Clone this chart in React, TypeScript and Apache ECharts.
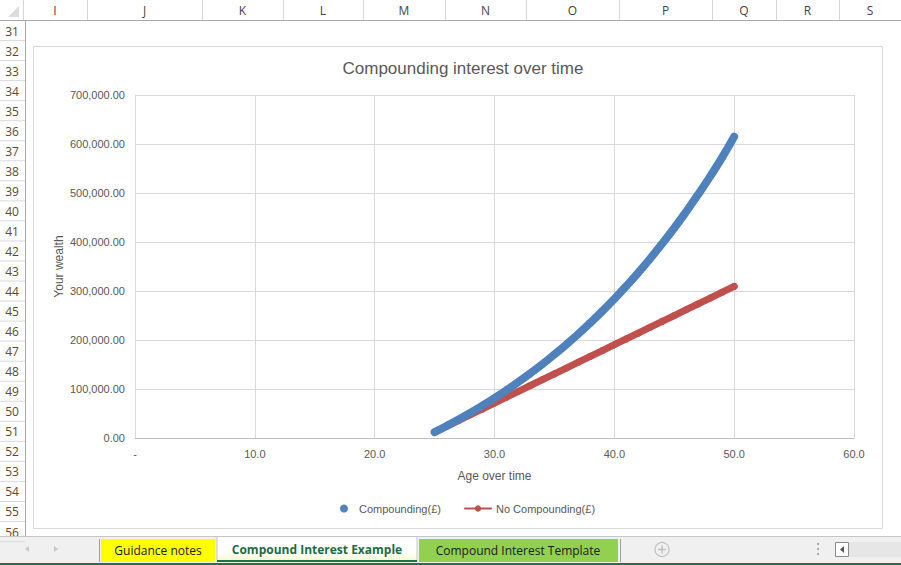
import React, { useEffect, useRef } from "react";
import * as echarts from "echarts";

const ages = [25, 26, 27, 28, 29, 30, 31, 32, 33, 34, 35, 36, 37, 38, 39, 40, 41, 42, 43, 44, 45, 46, 47, 48, 49, 50];
const compounding = [12000, 24600, 37800, 51700, 66300, 81600, 97700, 114600, 132300, 150900, 170500, 191000, 212500, 235200, 258900, 283900, 310100, 337600, 366500, 396800, 428600, 462100, 497200, 534000, 572700, 615000];
const noCompounding = [11900, 23800, 35700, 47600, 59500, 71400, 83300, 95200, 107100, 119000, 130900, 142800, 154700, 166600, 178500, 190400, 202300, 214200, 226100, 238000, 249900, 261800, 273700, 285600, 297500, 309400];

const columnLetters = ["I", "J", "K", "L", "M", "N", "O", "P", "Q", "R", "S"];
const columnEdges = [23, 87, 202, 283, 363, 445, 526, 619, 712, 776, 839, 901];
const rowNumbers = [31, 32, 33, 34, 35, 36, 37, 38, 39, 40, 41, 42, 43, 44, 45, 46, 47, 48, 49, 50, 51, 52, 53, 54, 55, 56];
const sheetTabs = ["Guidance notes", "Compound Interest Example", "Compound Interest Template"];

const UI_FONT = "'Open Sans', 'Noto Sans', sans-serif";
const CHART_FONT = "'Liberation Sans', Arial, sans-serif";

function buildGraphics() {
  const g: any[] = [];
  // Column header row
  g.push({ type: "rect", shape: { x: 0, y: 0, width: 901, height: 20 }, style: { fill: "#ffffff" }, z: -10 });
  g.push({ type: "polygon", shape: { points: [[19, 6], [19, 17], [8, 17]] }, style: { fill: "#dcdcdc" }, z: -9 });
  for (let i = 0; i < columnEdges.length - 1; i++) {
    const x = columnEdges[i];
    g.push({ type: "line", shape: { x1: x + 0.5, y1: 0, x2: x + 0.5, y2: 20 }, style: { stroke: "#d6d6d6", lineWidth: 1 }, z: -9 });
    g.push({
      type: "text",
      style: {
        text: columnLetters[i], x: (x + columnEdges[i + 1]) / 2, y: 10,
        textAlign: "center", textVerticalAlign: "middle", fill: "#444444", font: `12px ${UI_FONT}`,
      },
      z: -9,
    });
  }
  g.push({ type: "line", shape: { x1: 0, y1: 20.5, x2: 901, y2: 20.5 }, style: { stroke: "#a9a9a9", lineWidth: 1 }, z: -8 });
  // Row header column
  g.push({ type: "line", shape: { x1: 25.5, y1: 20, x2: 25.5, y2: 537 }, style: { stroke: "#a9a9a9", lineWidth: 1 }, z: -8 });
  rowNumbers.forEach((r, i) => {
    const top = 20.5 + i * 20.04;
    g.push({ type: "line", shape: { x1: 0, y1: top + 20.04, x2: 25, y2: top + 20.04 }, style: { stroke: "#dadada", lineWidth: 1 }, z: -9 });
    g.push({
      type: "text",
      style: {
        text: String(r), x: 12, y: top + 10.5, textAlign: "center", textVerticalAlign: "middle",
        fill: "#5a4a30", font: `12px ${UI_FONT}`,
      },
      z: -9,
    });
  });
  // Chart area border
  g.push({ type: "rect", shape: { x: 33.5, y: 46.5, width: 849, height: 482 }, style: { fill: "none", stroke: "#d9d9d9", lineWidth: 1 }, z: -7 });
  // Tab bar
  g.push({ type: "rect", shape: { x: 0, y: 537, width: 901, height: 28 }, style: { fill: "#f0f0f0" }, z: -10 });
  g.push({ type: "line", shape: { x1: 0, y1: 536.5, x2: 901, y2: 536.5 }, style: { stroke: "#c6c6c6", lineWidth: 1 }, z: -8 });
  g.push({ type: "polygon", shape: { points: [[29, 546], [29, 552], [25, 549]] }, style: { fill: "#c8c8c8" }, z: -8 });
  g.push({ type: "polygon", shape: { points: [[54, 546], [54, 552], [58, 549]] }, style: { fill: "#c8c8c8" }, z: -8 });
  g.push({ type: "line", shape: { x1: 99.5, y1: 539, x2: 99.5, y2: 562 }, style: { stroke: "#a0a0a0", lineWidth: 1 }, z: -8 });
  // tabs
  g.push({ type: "rect", shape: { x: 101, y: 539, width: 114, height: 23 }, style: { fill: "#ffff00" }, z: -8 });
  g.push({ type: "text", style: { text: sheetTabs[0], x: 158, y: 550, textAlign: "center", textVerticalAlign: "middle", fill: "#1a1a1a", font: `12px ${UI_FONT}` }, z: -7 });
  g.push({
    type: "rect", shape: { x: 217, y: 537, width: 200, height: 25 },
    style: { fill: new echarts.graphic.LinearGradient(0, 0, 0, 1, [{ offset: 0, color: "#ffffff" }, { offset: 0.6, color: "#ffffff" }, { offset: 1, color: "#fbf7c8" }]) },
    z: -8,
  });
  g.push({ type: "line", shape: { x1: 217, y1: 536.5, x2: 217, y2: 562 }, style: { stroke: "#c6c6c6", lineWidth: 1 }, z: -7 });
  g.push({ type: "line", shape: { x1: 417, y1: 536.5, x2: 417, y2: 562 }, style: { stroke: "#c6c6c6", lineWidth: 1 }, z: -7 });
  g.push({ type: "rect", shape: { x: 217, y: 560, width: 200, height: 2 }, style: { fill: "#217346" }, z: -7 });
  g.push({ type: "text", style: { text: sheetTabs[1], x: 317, y: 549, textAlign: "center", textVerticalAlign: "middle", fill: "#1e6b42", font: `bold 12px ${UI_FONT}` }, z: -7 });
  g.push({ type: "rect", shape: { x: 419, y: 539, width: 199, height: 23 }, style: { fill: "#92d050" }, z: -8 });
  g.push({ type: "text", style: { text: sheetTabs[2], x: 518, y: 550, textAlign: "center", textVerticalAlign: "middle", fill: "#1a1a1a", font: `12px ${UI_FONT}` }, z: -7 });
  g.push({ type: "line", shape: { x1: 620.5, y1: 539, x2: 620.5, y2: 562 }, style: { stroke: "#a0a0a0", lineWidth: 1 }, z: -8 });
  // add sheet button
  g.push({ type: "circle", shape: { cx: 662, cy: 549.5, r: 7 }, style: { fill: "none", stroke: "#c0c0c0", lineWidth: 1.2 }, z: -7 });
  g.push({ type: "line", shape: { x1: 658, y1: 549.5, x2: 666, y2: 549.5 }, style: { stroke: "#c0c0c0", lineWidth: 1.5 }, z: -7 });
  g.push({ type: "line", shape: { x1: 662, y1: 545.5, x2: 662, y2: 553.5 }, style: { stroke: "#c0c0c0", lineWidth: 1.5 }, z: -7 });
  // dots
  [544, 549, 554].forEach((y) => g.push({ type: "circle", shape: { cx: 818, cy: y, r: 1 }, style: { fill: "#9a9a9a" }, z: -7 }));
  // scrollbar
  g.push({ type: "rect", shape: { x: 849, y: 542, width: 52, height: 15 }, style: { fill: "#e6e6e6" }, z: -8 });
  g.push({ type: "rect", shape: { x: 835.5, y: 542.5, width: 13, height: 14 }, style: { fill: "#ffffff", stroke: "#8a8a8a", lineWidth: 1 }, z: -7 });
  g.push({ type: "polygon", shape: { points: [[844, 546], [844, 553], [840, 549.5]] }, style: { fill: "#555555" }, z: -6 });
  g.push({ type: "rect", shape: { x: 0, y: 563, width: 901, height: 2 }, style: { fill: "#217346" }, z: -7 });
  return g;
}

export default function App() {
  const ref = useRef<HTMLDivElement>(null);
  useEffect(() => {
    document.body.style.margin = "0";
    if (!ref.current) return;
    const chart = echarts.init(ref.current, null, { renderer: "svg" });
    const fmtY = (v: number) => v.toLocaleString("en-US", { minimumFractionDigits: 2, maximumFractionDigits: 2 });
    chart.setOption({
      animation: false,
      backgroundColor: "#ffffff",
      textStyle: { fontFamily: CHART_FONT },
      title: {
        text: "Compounding interest over time",
        left: 458,
        top: 55,
        textAlign: "center",
        textStyle: { fontSize: 17, fontWeight: "normal", color: "#595959", fontFamily: CHART_FONT },
      },
      grid: { left: 135, right: 47, top: 95, bottom: 127, containLabel: false },
      legend: [
        {
          data: [{ name: "Compounding(£)", icon: "circle" }],
          left: 335, top: 498, itemWidth: 20, itemHeight: 8, itemGap: 0,
          textStyle: { fontSize: 11, color: "#595959", fontFamily: CHART_FONT },
        },
        {
          data: ["No Compounding(£)"],
          left: 459, top: 498, itemWidth: 26, itemHeight: 8, itemGap: 0,
          lineStyle: { width: 2 },
          textStyle: { fontSize: 11, color: "#595959", fontFamily: CHART_FONT },
        },
      ],
      xAxis: {
        type: "value",
        min: 0, max: 60, interval: 10,
        name: "Age over time", nameLocation: "middle", nameGap: 32,
        nameTextStyle: { fontSize: 12, color: "#595959" },
        axisLine: { show: true, lineStyle: { color: "#bfbfbf" } },
        axisTick: { show: false },
        axisLabel: { color: "#595959", fontSize: 11, margin: 10, formatter: (v: number) => (v === 0 ? "-" : v.toFixed(1)) },
        splitLine: { show: true, lineStyle: { color: "#d9d9d9" } },
      },
      yAxis: {
        type: "value",
        min: 0, max: 700000, interval: 100000,
        name: "Your wealth", nameLocation: "middle", nameGap: 70, nameRotate: 90,
        nameMoveOverlap: false,
        nameTextStyle: { fontSize: 12, color: "#595959" },
        axisLine: { show: true, lineStyle: { color: "#d9d9d9" } },
        axisTick: { show: false },
        axisLabel: { color: "#595959", fontSize: 11, margin: 10, formatter: fmtY },
        splitLine: { show: true, lineStyle: { color: "#d9d9d9" } },
      },
      series: [
        {
          name: "No Compounding(£)",
          type: "line",
          data: ages.map((a, i) => [a, noCompounding[i]]),
          symbol: "circle", symbolSize: 7, showSymbol: true,
          lineStyle: { color: "#c0504d", width: 7, cap: "round", join: "round" },
          itemStyle: { color: "#c0504d" },
          z: 2,
        },
        {
          name: "Compounding(£)",
          type: "line",
          data: ages.map((a, i) => [a, compounding[i]]),
          smooth: true,
          symbol: "circle", symbolSize: 8, showSymbol: false,
          lineStyle: { color: "#4f81bd", width: 8, cap: "round", join: "round" },
          itemStyle: { color: "#4f81bd" },
          z: 3,
        },
      ],
      graphic: buildGraphics(),
    });
    return () => chart.dispose();
  }, []);
  return <div ref={ref} style={{ width: 901, height: 565 }} />;
}
